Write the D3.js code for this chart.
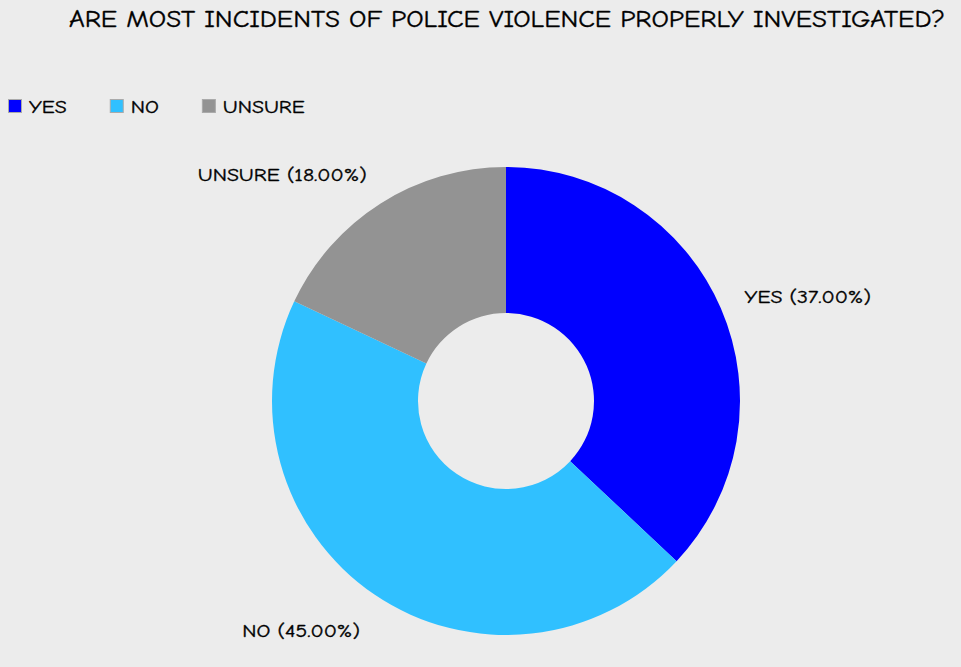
<!DOCTYPE html>
<html>
<head>
<meta charset="utf-8">
<script src="https://cdn.jsdelivr.net/npm/d3@7"></script>
<style>
  body { margin: 0; background: #ececec; }
  svg { display: block; }
  text { font-family: "Comic Sans MS", "Comic Neue", "Open Sans", sans-serif; fill: #000; stroke: #000; stroke-width: 0.35; }
</style>
</head>
<body>
<div class="content"></div>
<script>
var width = 961
var height = 667

var title = 'ARE MOST INCIDENTS OF POLICE VIOLENCE PROPERLY INVESTIGATED?'
var categories = ['YES', 'NO', 'UNSURE']
var values = [37, 45, 18]
var colors = ['#0000ff', '#30c0ff', '#939393']

// the fallback font is narrower than the original, widen text a bit
var stretch = 1.2

function widen(sel) {
    sel.each(function() {
        var w = this.getComputedTextLength()
        d3.select(this)
            .attr('textLength', w * stretch)
            .attr('lengthAdjust', 'spacingAndGlyphs')
    })
}

var color = d3.scaleOrdinal()
    .domain(categories)
    .range(colors)

var svg = d3.select('.content').append('svg')
    .attr('width', width)
    .attr('height', height)

svg.append('rect')
    .attr('width', width)
    .attr('height', height)
    .attr('fill', '#ececec')

svg.append('text')
    .attr('x', 69)
    .attr('y', 27)
    .attr('font-size', 24)
    .attr('textLength', 876)
    .attr('lengthAdjust', 'spacingAndGlyphs')
    .text(title)

// legend: marker + label, next item starts after the previous label
var legend = svg.append('g')
    .attr('class', 'legend')
    .attr('transform', 'translate(8,99)')

var lx = 0
categories.forEach(function(c) {
    var item = legend.append('g')
        .attr('transform', 'translate(' + lx + ',0)')
    item.append('rect')
        .attr('x', 0.5)
        .attr('y', 0.5)
        .attr('width', 13)
        .attr('height', 13)
        .attr('fill', color(c))
        .attr('stroke', '#aaa')
    var t = item.append('text')
        .attr('x', 21)
        .attr('y', 14)
        .attr('font-size', 18)
        .text(c)
        .call(widen)
    lx += 21 + t.node().getComputedTextLength() + 43
})

// donut
var cx = 506, cy = 401
var outerR = 234, innerR = 88, labelR = 260

var pie = d3.pie()
    .sort(null)
    .value(function(d) { return d.value })

var data = categories.map(function(c, i) {
    return { name: c, value: values[i] }
})

var arc = d3.arc()
    .innerRadius(innerR)
    .outerRadius(outerR)

var labelArc = d3.arc()
    .innerRadius(labelR)
    .outerRadius(labelR)

var g = svg.append('g')
    .attr('transform', 'translate(' + cx + ',' + cy + ')')

var arcs = pie(data)

g.selectAll('path')
    .data(arcs)
    .enter().append('path')
    .attr('d', arc)
    .attr('fill', function(d) { return color(d.data.name) })

var total = d3.sum(values)

g.selectAll('text.label')
    .data(arcs)
    .enter().append('text')
    .attr('class', 'label')
    .attr('font-size', 18)
    .attr('text-anchor', function(d) {
        var a = (d.startAngle + d.endAngle) / 2
        return Math.sin(a) >= 0 ? 'start' : 'end'
    })
    .attr('x', function(d) { return labelArc.centroid(d)[0] })
    .attr('y', function(d) {
        var a = (d.startAngle + d.endAngle) / 2
        var u = -Math.cos(a)
        return labelArc.centroid(d)[1] + 10 + 13 * u
    })
    .text(function(d) {
        return d.data.name + ' (' + (d.data.value / total * 100).toFixed(2) + '%)'
    })
    .call(widen)
</script>
</body>
</html>
